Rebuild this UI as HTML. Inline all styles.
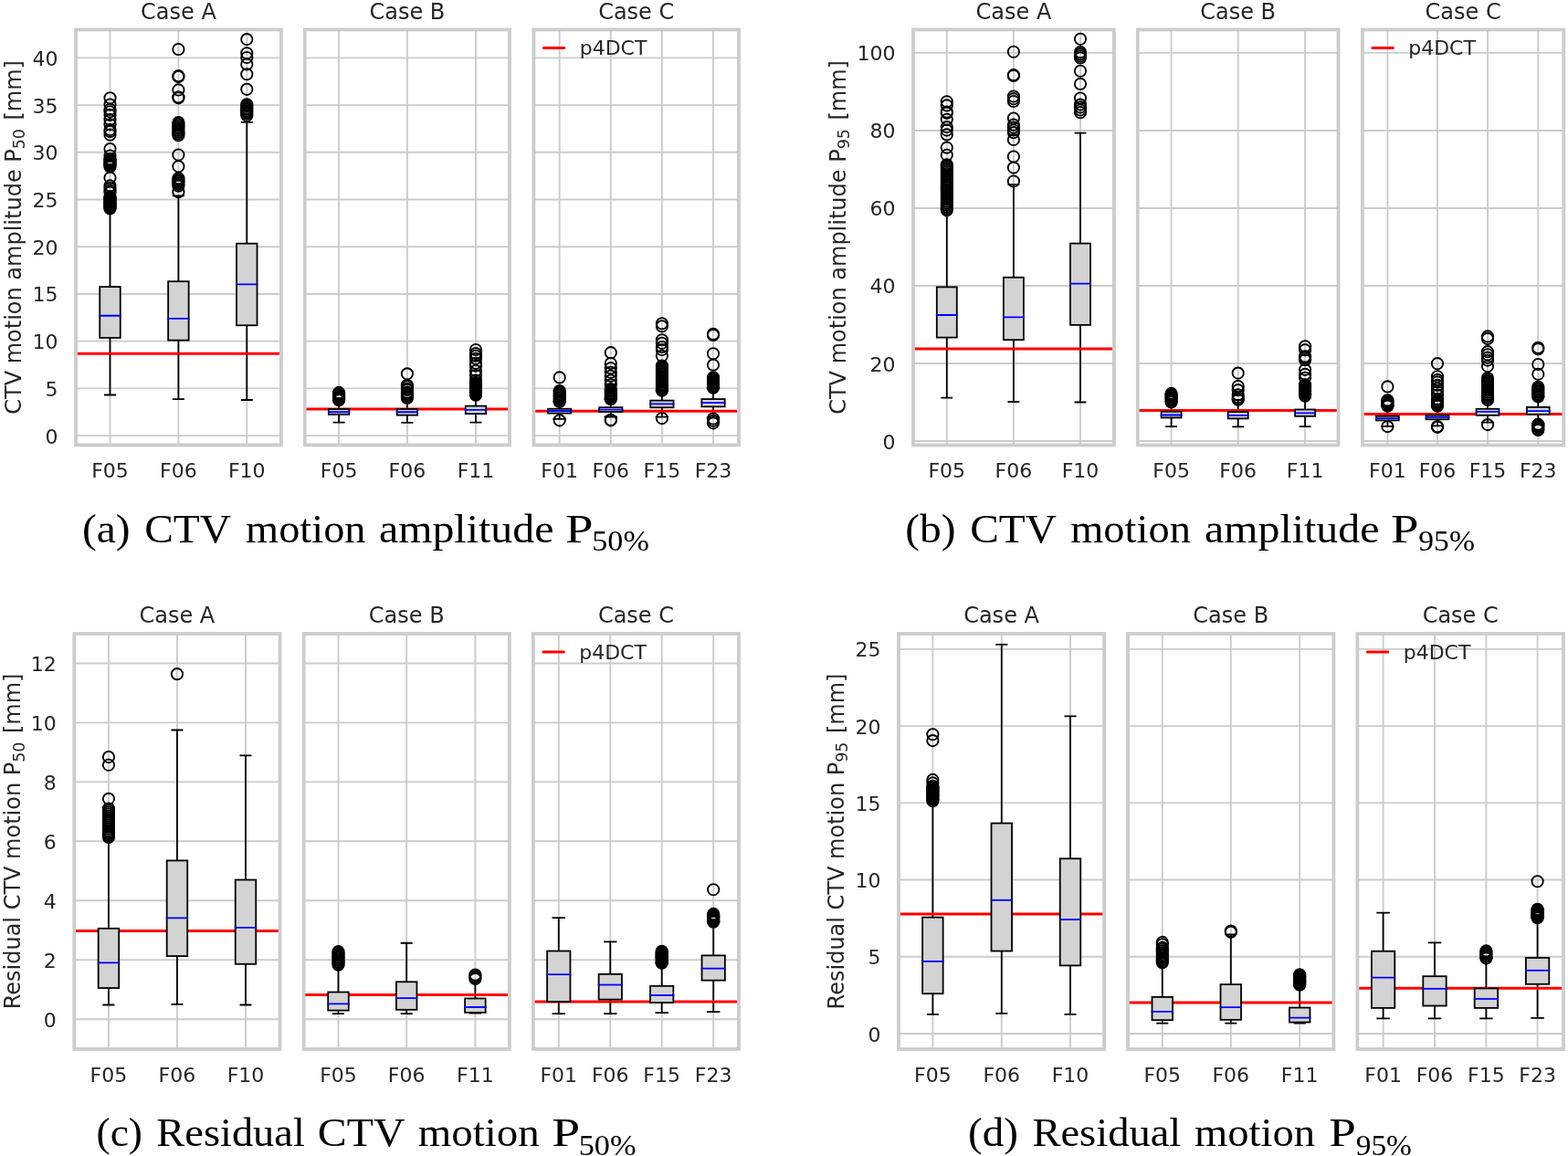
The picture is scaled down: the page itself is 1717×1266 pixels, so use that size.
<!DOCTYPE html>
<html><head><meta charset="utf-8"><title>CTV motion boxplots</title>
<style>
html,body{margin:0;padding:0;background:#fff;}
body{width:1717px;height:1266px;overflow:hidden;}
svg{display:block;}
text{font-family:"DejaVu Sans","Liberation Sans",sans-serif;fill:#262626;}
.tt{font-size:24px;text-anchor:middle;}
.xt{font-size:22px;text-anchor:middle;}
.yt{font-size:22px;text-anchor:end;}
.lg{font-size:22px;}
.yl{font-size:24px;text-anchor:middle;}
.cap{font-family:"Liberation Serif","DejaVu Serif",serif;fill:#000;}
</style></head>
<body>
<svg width="1717" height="1266" viewBox="0 0 1717 1266">
<rect width="1717" height="1266" fill="#fff"/>
<clipPath id="c00"><rect x="83.05" y="32.45" width="224.85" height="454.9"/></clipPath>
<path d="M83.05 477.1H307.9M83.05 425.38H307.9M83.05 373.67H307.9M83.05 321.96H307.9M83.05 270.24H307.9M83.05 218.53H307.9M83.05 166.81H307.9M83.05 115.1H307.9M83.05 63.38H307.9M120.5 32.45V487.35M195.4 32.45V487.35M270.3 32.45V487.35" stroke="#cccccc" stroke-width="1.9" fill="none"/>
<g clip-path="url(#c00)">
<path d="M120.5 369.95V432.52M120.5 314.09V228.87M114.88 432.52H126.12M114.88 228.87H126.12" stroke="#000" stroke-width="1.8" fill="none" stroke-linecap="square"/>
<circle cx="120.5" cy="107.34" r="6.15" fill="none" stroke="#000" stroke-width="1.85"/>
<circle cx="120.5" cy="114.58" r="6.15" fill="none" stroke="#000" stroke-width="1.85"/>
<circle cx="120.5" cy="119.75" r="6.15" fill="none" stroke="#000" stroke-width="1.85"/>
<circle cx="120.5" cy="122.34" r="6.15" fill="none" stroke="#000" stroke-width="1.85"/>
<circle cx="120.5" cy="125.96" r="6.15" fill="none" stroke="#000" stroke-width="1.85"/>
<circle cx="120.5" cy="131.13" r="6.15" fill="none" stroke="#000" stroke-width="1.85"/>
<circle cx="120.5" cy="136.3" r="6.15" fill="none" stroke="#000" stroke-width="1.85"/>
<circle cx="120.5" cy="141.99" r="6.15" fill="none" stroke="#000" stroke-width="1.85"/>
<circle cx="120.5" cy="144.06" r="6.15" fill="none" stroke="#000" stroke-width="1.85"/>
<circle cx="120.5" cy="147.68" r="6.15" fill="none" stroke="#000" stroke-width="1.85"/>
<circle cx="120.5" cy="163.09" r="6.15" fill="none" stroke="#000" stroke-width="1.85"/>
<circle cx="120.5" cy="170.53" r="6.15" fill="none" stroke="#000" stroke-width="1.85"/>
<circle cx="120.5" cy="174.05" r="6.15" fill="none" stroke="#000" stroke-width="1.85"/>
<circle cx="120.5" cy="175.31" r="6.15" fill="none" stroke="#000" stroke-width="1.85"/>
<circle cx="120.5" cy="176.56" r="6.15" fill="none" stroke="#000" stroke-width="1.85"/>
<circle cx="120.5" cy="177.82" r="6.15" fill="none" stroke="#000" stroke-width="1.85"/>
<circle cx="120.5" cy="179.07" r="6.15" fill="none" stroke="#000" stroke-width="1.85"/>
<circle cx="120.5" cy="180.33" r="6.15" fill="none" stroke="#000" stroke-width="1.85"/>
<circle cx="120.5" cy="181.59" r="6.15" fill="none" stroke="#000" stroke-width="1.85"/>
<circle cx="120.5" cy="182.84" r="6.15" fill="none" stroke="#000" stroke-width="1.85"/>
<circle cx="120.5" cy="194.74" r="6.15" fill="none" stroke="#000" stroke-width="1.85"/>
<circle cx="120.5" cy="203.42" r="6.15" fill="none" stroke="#000" stroke-width="1.85"/>
<circle cx="120.5" cy="206.11" r="6.15" fill="none" stroke="#000" stroke-width="1.85"/>
<circle cx="120.5" cy="208.7" r="6.15" fill="none" stroke="#000" stroke-width="1.85"/>
<circle cx="120.5" cy="210.77" r="6.15" fill="none" stroke="#000" stroke-width="1.85"/>
<circle cx="120.5" cy="215.42" r="6.15" fill="none" stroke="#000" stroke-width="1.85"/>
<circle cx="120.5" cy="216.42" r="6.15" fill="none" stroke="#000" stroke-width="1.85"/>
<circle cx="120.5" cy="217.43" r="6.15" fill="none" stroke="#000" stroke-width="1.85"/>
<circle cx="120.5" cy="218.43" r="6.15" fill="none" stroke="#000" stroke-width="1.85"/>
<circle cx="120.5" cy="219.43" r="6.15" fill="none" stroke="#000" stroke-width="1.85"/>
<circle cx="120.5" cy="220.43" r="6.15" fill="none" stroke="#000" stroke-width="1.85"/>
<circle cx="120.5" cy="221.44" r="6.15" fill="none" stroke="#000" stroke-width="1.85"/>
<circle cx="120.5" cy="222.44" r="6.15" fill="none" stroke="#000" stroke-width="1.85"/>
<circle cx="120.5" cy="223.44" r="6.15" fill="none" stroke="#000" stroke-width="1.85"/>
<circle cx="120.5" cy="224.44" r="6.15" fill="none" stroke="#000" stroke-width="1.85"/>
<circle cx="120.5" cy="225.45" r="6.15" fill="none" stroke="#000" stroke-width="1.85"/>
<circle cx="120.5" cy="226.45" r="6.15" fill="none" stroke="#000" stroke-width="1.85"/>
<circle cx="120.5" cy="227.45" r="6.15" fill="none" stroke="#000" stroke-width="1.85"/>
<circle cx="120.5" cy="228.45" r="6.15" fill="none" stroke="#000" stroke-width="1.85"/>
<path d="M195.4 372.64V437.07M195.4 308.2V214.39M189.78 437.07H201.02M189.78 214.39H201.02" stroke="#000" stroke-width="1.8" fill="none" stroke-linecap="square"/>
<circle cx="195.4" cy="53.97" r="6.15" fill="none" stroke="#000" stroke-width="1.85"/>
<circle cx="195.4" cy="83.14" r="6.15" fill="none" stroke="#000" stroke-width="1.85"/>
<circle cx="195.4" cy="84.07" r="6.15" fill="none" stroke="#000" stroke-width="1.85"/>
<circle cx="195.4" cy="98.44" r="6.15" fill="none" stroke="#000" stroke-width="1.85"/>
<circle cx="195.4" cy="106.3" r="6.15" fill="none" stroke="#000" stroke-width="1.85"/>
<circle cx="195.4" cy="107.34" r="6.15" fill="none" stroke="#000" stroke-width="1.85"/>
<circle cx="195.4" cy="134.02" r="6.15" fill="none" stroke="#000" stroke-width="1.85"/>
<circle cx="195.4" cy="135.79" r="6.15" fill="none" stroke="#000" stroke-width="1.85"/>
<circle cx="195.4" cy="137.57" r="6.15" fill="none" stroke="#000" stroke-width="1.85"/>
<circle cx="195.4" cy="139.34" r="6.15" fill="none" stroke="#000" stroke-width="1.85"/>
<circle cx="195.4" cy="141.11" r="6.15" fill="none" stroke="#000" stroke-width="1.85"/>
<circle cx="195.4" cy="142.88" r="6.15" fill="none" stroke="#000" stroke-width="1.85"/>
<circle cx="195.4" cy="144.65" r="6.15" fill="none" stroke="#000" stroke-width="1.85"/>
<circle cx="195.4" cy="146.42" r="6.15" fill="none" stroke="#000" stroke-width="1.85"/>
<circle cx="195.4" cy="148.19" r="6.15" fill="none" stroke="#000" stroke-width="1.85"/>
<circle cx="195.4" cy="169.5" r="6.15" fill="none" stroke="#000" stroke-width="1.85"/>
<circle cx="195.4" cy="182.32" r="6.15" fill="none" stroke="#000" stroke-width="1.85"/>
<circle cx="195.4" cy="195.15" r="6.15" fill="none" stroke="#000" stroke-width="1.85"/>
<circle cx="195.4" cy="196.87" r="6.15" fill="none" stroke="#000" stroke-width="1.85"/>
<circle cx="195.4" cy="198.58" r="6.15" fill="none" stroke="#000" stroke-width="1.85"/>
<circle cx="195.4" cy="200.3" r="6.15" fill="none" stroke="#000" stroke-width="1.85"/>
<circle cx="195.4" cy="202.02" r="6.15" fill="none" stroke="#000" stroke-width="1.85"/>
<circle cx="195.4" cy="203.73" r="6.15" fill="none" stroke="#000" stroke-width="1.85"/>
<circle cx="195.4" cy="210.15" r="6.15" fill="none" stroke="#000" stroke-width="1.85"/>
<path d="M270.3 356.29V438M270.3 266.72V133.92M264.68 438H275.92M264.68 133.92H275.92" stroke="#000" stroke-width="1.8" fill="none" stroke-linecap="square"/>
<circle cx="270.3" cy="43.11" r="6.15" fill="none" stroke="#000" stroke-width="1.85"/>
<circle cx="270.3" cy="58.31" r="6.15" fill="none" stroke="#000" stroke-width="1.85"/>
<circle cx="270.3" cy="62.97" r="6.15" fill="none" stroke="#000" stroke-width="1.85"/>
<circle cx="270.3" cy="70.41" r="6.15" fill="none" stroke="#000" stroke-width="1.85"/>
<circle cx="270.3" cy="81.27" r="6.15" fill="none" stroke="#000" stroke-width="1.85"/>
<circle cx="270.3" cy="97.82" r="6.15" fill="none" stroke="#000" stroke-width="1.85"/>
<circle cx="270.3" cy="114.37" r="6.15" fill="none" stroke="#000" stroke-width="1.85"/>
<circle cx="270.3" cy="116.13" r="6.15" fill="none" stroke="#000" stroke-width="1.85"/>
<circle cx="270.3" cy="118.2" r="6.15" fill="none" stroke="#000" stroke-width="1.85"/>
<circle cx="270.3" cy="119.75" r="6.15" fill="none" stroke="#000" stroke-width="1.85"/>
<circle cx="270.3" cy="121.3" r="6.15" fill="none" stroke="#000" stroke-width="1.85"/>
<circle cx="270.3" cy="122.85" r="6.15" fill="none" stroke="#000" stroke-width="1.85"/>
<circle cx="270.3" cy="124.4" r="6.15" fill="none" stroke="#000" stroke-width="1.85"/>
<circle cx="270.3" cy="126.47" r="6.15" fill="none" stroke="#000" stroke-width="1.85"/>
<path d="M83.05 387.22H307.9" stroke="#ff0000" stroke-width="3.0"/>
<rect x="109.26" y="314.09" width="22.48" height="55.85" fill="#d3d3d3" stroke="#000" stroke-width="1.8"/>
<path d="M109.26 345.74H131.74" stroke="#0000ff" stroke-width="1.8" stroke-linecap="square"/>
<rect x="184.16" y="308.2" width="22.48" height="64.44" fill="#d3d3d3" stroke="#000" stroke-width="1.8"/>
<path d="M184.16 348.95H206.64" stroke="#0000ff" stroke-width="1.8" stroke-linecap="square"/>
<rect x="259.06" y="266.72" width="22.48" height="89.57" fill="#d3d3d3" stroke="#000" stroke-width="1.8"/>
<path d="M259.06 311.41H281.54" stroke="#0000ff" stroke-width="1.8" stroke-linecap="square"/>
</g>
<rect x="83.05" y="32.45" width="224.85" height="454.9" fill="none" stroke="#cccccc" stroke-width="3.75"/>
<text x="195.47" y="20.55" class="tt">Case A</text>
<text x="120.5" y="522.95" class="xt">F05</text>
<text x="195.4" y="522.95" class="xt">F06</text>
<text x="270.3" y="522.95" class="xt">F10</text>
<clipPath id="c01"><rect x="333.8" y="32.45" width="224.2" height="454.9"/></clipPath>
<path d="M333.8 477.1H558M333.8 425.38H558M333.8 373.67H558M333.8 321.96H558M333.8 270.24H558M333.8 218.53H558M333.8 166.81H558M333.8 115.1H558M333.8 63.38H558M371.1 32.45V487.35M445.9 32.45V487.35M521 32.45V487.35" stroke="#cccccc" stroke-width="1.9" fill="none"/>
<g clip-path="url(#c01)">
<path d="M371.1 453.93V462.62M371.1 448.04V438.21M365.5 462.62H376.71M365.5 438.21H376.71" stroke="#000" stroke-width="1.8" fill="none" stroke-linecap="square"/>
<circle cx="371.1" cy="429.94" r="6.15" fill="none" stroke="#000" stroke-width="1.85"/>
<circle cx="371.1" cy="430.86" r="6.15" fill="none" stroke="#000" stroke-width="1.85"/>
<circle cx="371.1" cy="431.77" r="6.15" fill="none" stroke="#000" stroke-width="1.85"/>
<circle cx="371.1" cy="432.69" r="6.15" fill="none" stroke="#000" stroke-width="1.85"/>
<circle cx="371.1" cy="433.61" r="6.15" fill="none" stroke="#000" stroke-width="1.85"/>
<circle cx="371.1" cy="434.53" r="6.15" fill="none" stroke="#000" stroke-width="1.85"/>
<circle cx="371.1" cy="435.45" r="6.15" fill="none" stroke="#000" stroke-width="1.85"/>
<circle cx="371.1" cy="436.37" r="6.15" fill="none" stroke="#000" stroke-width="1.85"/>
<circle cx="371.1" cy="437.29" r="6.15" fill="none" stroke="#000" stroke-width="1.85"/>
<circle cx="371.1" cy="438.21" r="6.15" fill="none" stroke="#000" stroke-width="1.85"/>
<path d="M445.9 454.66V462.93M445.9 448.04V436.04M440.29 462.93H451.5M440.29 436.04H451.5" stroke="#000" stroke-width="1.8" fill="none" stroke-linecap="square"/>
<circle cx="445.9" cy="409.35" r="6.15" fill="none" stroke="#000" stroke-width="1.85"/>
<circle cx="445.9" cy="421.76" r="6.15" fill="none" stroke="#000" stroke-width="1.85"/>
<circle cx="445.9" cy="423.32" r="6.15" fill="none" stroke="#000" stroke-width="1.85"/>
<circle cx="445.9" cy="425.9" r="6.15" fill="none" stroke="#000" stroke-width="1.85"/>
<circle cx="445.9" cy="427.04" r="6.15" fill="none" stroke="#000" stroke-width="1.85"/>
<circle cx="445.9" cy="429.52" r="6.15" fill="none" stroke="#000" stroke-width="1.85"/>
<circle cx="445.9" cy="431.07" r="6.15" fill="none" stroke="#000" stroke-width="1.85"/>
<circle cx="445.9" cy="432.21" r="6.15" fill="none" stroke="#000" stroke-width="1.85"/>
<circle cx="445.9" cy="434.18" r="6.15" fill="none" stroke="#000" stroke-width="1.85"/>
<circle cx="445.9" cy="436.04" r="6.15" fill="none" stroke="#000" stroke-width="1.85"/>
<path d="M521 453.21V462.72M521 444.62V432.83M515.39 462.72H526.61M515.39 432.83H526.61" stroke="#000" stroke-width="1.8" fill="none" stroke-linecap="square"/>
<circle cx="521" cy="382.98" r="6.15" fill="none" stroke="#000" stroke-width="1.85"/>
<circle cx="521" cy="387.12" r="6.15" fill="none" stroke="#000" stroke-width="1.85"/>
<circle cx="521" cy="389.7" r="6.15" fill="none" stroke="#000" stroke-width="1.85"/>
<circle cx="521" cy="392.8" r="6.15" fill="none" stroke="#000" stroke-width="1.85"/>
<circle cx="521" cy="397.77" r="6.15" fill="none" stroke="#000" stroke-width="1.85"/>
<circle cx="521" cy="400.56" r="6.15" fill="none" stroke="#000" stroke-width="1.85"/>
<circle cx="521" cy="406.04" r="6.15" fill="none" stroke="#000" stroke-width="1.85"/>
<circle cx="521" cy="411.01" r="6.15" fill="none" stroke="#000" stroke-width="1.85"/>
<circle cx="521" cy="416.59" r="6.15" fill="none" stroke="#000" stroke-width="1.85"/>
<circle cx="521" cy="419.18" r="6.15" fill="none" stroke="#000" stroke-width="1.85"/>
<circle cx="521" cy="420.23" r="6.15" fill="none" stroke="#000" stroke-width="1.85"/>
<circle cx="521" cy="421.28" r="6.15" fill="none" stroke="#000" stroke-width="1.85"/>
<circle cx="521" cy="422.33" r="6.15" fill="none" stroke="#000" stroke-width="1.85"/>
<circle cx="521" cy="423.38" r="6.15" fill="none" stroke="#000" stroke-width="1.85"/>
<circle cx="521" cy="424.43" r="6.15" fill="none" stroke="#000" stroke-width="1.85"/>
<circle cx="521" cy="425.48" r="6.15" fill="none" stroke="#000" stroke-width="1.85"/>
<circle cx="521" cy="426.53" r="6.15" fill="none" stroke="#000" stroke-width="1.85"/>
<circle cx="521" cy="427.58" r="6.15" fill="none" stroke="#000" stroke-width="1.85"/>
<circle cx="521" cy="428.63" r="6.15" fill="none" stroke="#000" stroke-width="1.85"/>
<circle cx="521" cy="429.68" r="6.15" fill="none" stroke="#000" stroke-width="1.85"/>
<circle cx="521" cy="430.73" r="6.15" fill="none" stroke="#000" stroke-width="1.85"/>
<circle cx="521" cy="431.78" r="6.15" fill="none" stroke="#000" stroke-width="1.85"/>
<circle cx="521" cy="432.83" r="6.15" fill="none" stroke="#000" stroke-width="1.85"/>
<path d="M333.8 447.93H558" stroke="#ff0000" stroke-width="3.0"/>
<rect x="359.89" y="448.04" width="22.42" height="5.9" fill="#d3d3d3" stroke="#000" stroke-width="1.8"/>
<path d="M359.89 451.24H382.31" stroke="#0000ff" stroke-width="1.8" stroke-linecap="square"/>
<rect x="434.69" y="448.04" width="22.42" height="6.62" fill="#d3d3d3" stroke="#000" stroke-width="1.8"/>
<path d="M434.69 451.24H457.11" stroke="#0000ff" stroke-width="1.8" stroke-linecap="square"/>
<rect x="509.79" y="444.62" width="22.42" height="8.58" fill="#d3d3d3" stroke="#000" stroke-width="1.8"/>
<path d="M509.79 448.97H532.21" stroke="#0000ff" stroke-width="1.8" stroke-linecap="square"/>
</g>
<rect x="333.8" y="32.45" width="224.2" height="454.9" fill="none" stroke="#cccccc" stroke-width="3.75"/>
<text x="445.9" y="20.55" class="tt">Case B</text>
<text x="371.1" y="522.95" class="xt">F05</text>
<text x="445.9" y="522.95" class="xt">F06</text>
<text x="521" y="522.95" class="xt">F11</text>
<clipPath id="c02"><rect x="584.4" y="32.45" width="224.6" height="454.9"/></clipPath>
<path d="M584.4 477.1H809M584.4 425.38H809M584.4 373.67H809M584.4 321.96H809M584.4 270.24H809M584.4 218.53H809M584.4 166.81H809M584.4 115.1H809M584.4 63.38H809M612.7 32.45V487.35M668.8 32.45V487.35M724.9 32.45V487.35M781 32.45V487.35" stroke="#cccccc" stroke-width="1.9" fill="none"/>
<g clip-path="url(#c02)">
<path d="M612.7 452.59V458.9M612.7 447.73V439.97M606.38 458.9H619.02M606.38 439.97H619.02" stroke="#000" stroke-width="1.8" fill="none" stroke-linecap="square"/>
<circle cx="612.7" cy="413.39" r="6.15" fill="none" stroke="#000" stroke-width="1.85"/>
<circle cx="612.7" cy="427.97" r="6.15" fill="none" stroke="#000" stroke-width="1.85"/>
<circle cx="612.7" cy="429.32" r="6.15" fill="none" stroke="#000" stroke-width="1.85"/>
<circle cx="612.7" cy="431.07" r="6.15" fill="none" stroke="#000" stroke-width="1.85"/>
<circle cx="612.7" cy="432.56" r="6.15" fill="none" stroke="#000" stroke-width="1.85"/>
<circle cx="612.7" cy="434.04" r="6.15" fill="none" stroke="#000" stroke-width="1.85"/>
<circle cx="612.7" cy="435.52" r="6.15" fill="none" stroke="#000" stroke-width="1.85"/>
<circle cx="612.7" cy="437" r="6.15" fill="none" stroke="#000" stroke-width="1.85"/>
<circle cx="612.7" cy="438.49" r="6.15" fill="none" stroke="#000" stroke-width="1.85"/>
<circle cx="612.7" cy="439.97" r="6.15" fill="none" stroke="#000" stroke-width="1.85"/>
<circle cx="612.7" cy="460.34" r="6.15" fill="none" stroke="#000" stroke-width="1.85"/>
<path d="M668.8 451.04V456.52M668.8 446.17V437.18M662.48 456.52H675.12M662.48 437.18H675.12" stroke="#000" stroke-width="1.8" fill="none" stroke-linecap="square"/>
<circle cx="668.8" cy="386.19" r="6.15" fill="none" stroke="#000" stroke-width="1.85"/>
<circle cx="668.8" cy="397.98" r="6.15" fill="none" stroke="#000" stroke-width="1.85"/>
<circle cx="668.8" cy="403.15" r="6.15" fill="none" stroke="#000" stroke-width="1.85"/>
<circle cx="668.8" cy="407.8" r="6.15" fill="none" stroke="#000" stroke-width="1.85"/>
<circle cx="668.8" cy="411.84" r="6.15" fill="none" stroke="#000" stroke-width="1.85"/>
<circle cx="668.8" cy="416.49" r="6.15" fill="none" stroke="#000" stroke-width="1.85"/>
<circle cx="668.8" cy="421.25" r="6.15" fill="none" stroke="#000" stroke-width="1.85"/>
<circle cx="668.8" cy="426.01" r="6.15" fill="none" stroke="#000" stroke-width="1.85"/>
<circle cx="668.8" cy="427.45" r="6.15" fill="none" stroke="#000" stroke-width="1.85"/>
<circle cx="668.8" cy="428.84" r="6.15" fill="none" stroke="#000" stroke-width="1.85"/>
<circle cx="668.8" cy="430.23" r="6.15" fill="none" stroke="#000" stroke-width="1.85"/>
<circle cx="668.8" cy="431.62" r="6.15" fill="none" stroke="#000" stroke-width="1.85"/>
<circle cx="668.8" cy="433.01" r="6.15" fill="none" stroke="#000" stroke-width="1.85"/>
<circle cx="668.8" cy="434.4" r="6.15" fill="none" stroke="#000" stroke-width="1.85"/>
<circle cx="668.8" cy="435.79" r="6.15" fill="none" stroke="#000" stroke-width="1.85"/>
<circle cx="668.8" cy="437.18" r="6.15" fill="none" stroke="#000" stroke-width="1.85"/>
<circle cx="668.8" cy="459.83" r="6.15" fill="none" stroke="#000" stroke-width="1.85"/>
<circle cx="668.8" cy="460.34" r="6.15" fill="none" stroke="#000" stroke-width="1.85"/>
<path d="M724.9 446.28V456.62M724.9 438.62V427.87M718.58 456.62H731.22M718.58 427.87H731.22" stroke="#000" stroke-width="1.8" fill="none" stroke-linecap="square"/>
<circle cx="724.9" cy="354.33" r="6.15" fill="none" stroke="#000" stroke-width="1.85"/>
<circle cx="724.9" cy="357.33" r="6.15" fill="none" stroke="#000" stroke-width="1.85"/>
<circle cx="724.9" cy="372.22" r="6.15" fill="none" stroke="#000" stroke-width="1.85"/>
<circle cx="724.9" cy="375.84" r="6.15" fill="none" stroke="#000" stroke-width="1.85"/>
<circle cx="724.9" cy="379.98" r="6.15" fill="none" stroke="#000" stroke-width="1.85"/>
<circle cx="724.9" cy="382.98" r="6.15" fill="none" stroke="#000" stroke-width="1.85"/>
<circle cx="724.9" cy="389.7" r="6.15" fill="none" stroke="#000" stroke-width="1.85"/>
<circle cx="724.9" cy="400.46" r="6.15" fill="none" stroke="#000" stroke-width="1.85"/>
<circle cx="724.9" cy="401.98" r="6.15" fill="none" stroke="#000" stroke-width="1.85"/>
<circle cx="724.9" cy="403.5" r="6.15" fill="none" stroke="#000" stroke-width="1.85"/>
<circle cx="724.9" cy="405.03" r="6.15" fill="none" stroke="#000" stroke-width="1.85"/>
<circle cx="724.9" cy="406.55" r="6.15" fill="none" stroke="#000" stroke-width="1.85"/>
<circle cx="724.9" cy="408.07" r="6.15" fill="none" stroke="#000" stroke-width="1.85"/>
<circle cx="724.9" cy="409.59" r="6.15" fill="none" stroke="#000" stroke-width="1.85"/>
<circle cx="724.9" cy="411.12" r="6.15" fill="none" stroke="#000" stroke-width="1.85"/>
<circle cx="724.9" cy="412.64" r="6.15" fill="none" stroke="#000" stroke-width="1.85"/>
<circle cx="724.9" cy="414.16" r="6.15" fill="none" stroke="#000" stroke-width="1.85"/>
<circle cx="724.9" cy="415.69" r="6.15" fill="none" stroke="#000" stroke-width="1.85"/>
<circle cx="724.9" cy="417.21" r="6.15" fill="none" stroke="#000" stroke-width="1.85"/>
<circle cx="724.9" cy="418.73" r="6.15" fill="none" stroke="#000" stroke-width="1.85"/>
<circle cx="724.9" cy="420.25" r="6.15" fill="none" stroke="#000" stroke-width="1.85"/>
<circle cx="724.9" cy="421.78" r="6.15" fill="none" stroke="#000" stroke-width="1.85"/>
<circle cx="724.9" cy="423.3" r="6.15" fill="none" stroke="#000" stroke-width="1.85"/>
<circle cx="724.9" cy="424.82" r="6.15" fill="none" stroke="#000" stroke-width="1.85"/>
<circle cx="724.9" cy="426.34" r="6.15" fill="none" stroke="#000" stroke-width="1.85"/>
<circle cx="724.9" cy="427.87" r="6.15" fill="none" stroke="#000" stroke-width="1.85"/>
<circle cx="724.9" cy="458.07" r="6.15" fill="none" stroke="#000" stroke-width="1.85"/>
<path d="M781 445.35V457.45M781 437.07V424.76M774.68 457.45H787.32M774.68 424.76H787.32" stroke="#000" stroke-width="1.8" fill="none" stroke-linecap="square"/>
<circle cx="781" cy="365.71" r="6.15" fill="none" stroke="#000" stroke-width="1.85"/>
<circle cx="781" cy="366.95" r="6.15" fill="none" stroke="#000" stroke-width="1.85"/>
<circle cx="781" cy="387.22" r="6.15" fill="none" stroke="#000" stroke-width="1.85"/>
<circle cx="781" cy="399.63" r="6.15" fill="none" stroke="#000" stroke-width="1.85"/>
<circle cx="781" cy="413.28" r="6.15" fill="none" stroke="#000" stroke-width="1.85"/>
<circle cx="781" cy="414.56" r="6.15" fill="none" stroke="#000" stroke-width="1.85"/>
<circle cx="781" cy="415.83" r="6.15" fill="none" stroke="#000" stroke-width="1.85"/>
<circle cx="781" cy="417.11" r="6.15" fill="none" stroke="#000" stroke-width="1.85"/>
<circle cx="781" cy="418.39" r="6.15" fill="none" stroke="#000" stroke-width="1.85"/>
<circle cx="781" cy="419.66" r="6.15" fill="none" stroke="#000" stroke-width="1.85"/>
<circle cx="781" cy="420.94" r="6.15" fill="none" stroke="#000" stroke-width="1.85"/>
<circle cx="781" cy="422.21" r="6.15" fill="none" stroke="#000" stroke-width="1.85"/>
<circle cx="781" cy="423.49" r="6.15" fill="none" stroke="#000" stroke-width="1.85"/>
<circle cx="781" cy="424.76" r="6.15" fill="none" stroke="#000" stroke-width="1.85"/>
<circle cx="781" cy="458.48" r="6.15" fill="none" stroke="#000" stroke-width="1.85"/>
<circle cx="781" cy="460.76" r="6.15" fill="none" stroke="#000" stroke-width="1.85"/>
<circle cx="781" cy="463.34" r="6.15" fill="none" stroke="#000" stroke-width="1.85"/>
<path d="M584.4 450.21H809" stroke="#ff0000" stroke-width="3.0"/>
<rect x="600.07" y="447.73" width="25.27" height="4.86" fill="#d3d3d3" stroke="#000" stroke-width="1.8"/>
<path d="M600.07 450H625.33" stroke="#0000ff" stroke-width="1.8" stroke-linecap="square"/>
<rect x="656.17" y="446.17" width="25.27" height="4.86" fill="#d3d3d3" stroke="#000" stroke-width="1.8"/>
<path d="M656.17 448.55H681.43" stroke="#0000ff" stroke-width="1.8" stroke-linecap="square"/>
<rect x="712.27" y="438.62" width="25.27" height="7.65" fill="#d3d3d3" stroke="#000" stroke-width="1.8"/>
<path d="M712.27 442.45H737.53" stroke="#0000ff" stroke-width="1.8" stroke-linecap="square"/>
<rect x="768.37" y="437.07" width="25.27" height="8.27" fill="#d3d3d3" stroke="#000" stroke-width="1.8"/>
<path d="M768.37 441.21H793.63" stroke="#0000ff" stroke-width="1.8" stroke-linecap="square"/>
</g>
<rect x="584.4" y="32.45" width="224.6" height="454.9" fill="none" stroke="#cccccc" stroke-width="3.75"/>
<text x="696.7" y="20.55" class="tt">Case C</text>
<text x="612.7" y="522.95" class="xt">F01</text>
<text x="668.8" y="522.95" class="xt">F06</text>
<text x="724.9" y="522.95" class="xt">F15</text>
<text x="781" y="522.95" class="xt">F23</text>
<path d="M595.4 52.55H617.9" stroke="#ff0000" stroke-width="3.0" stroke-linecap="round"/>
<text x="634.7" y="60.15" class="lg">p4DCT</text>
<text x="63.45" y="485.6" class="yt">0</text>
<text x="63.45" y="433.88" class="yt">5</text>
<text x="63.45" y="382.17" class="yt">10</text>
<text x="63.45" y="330.46" class="yt">15</text>
<text x="63.45" y="278.74" class="yt">20</text>
<text x="63.45" y="227.03" class="yt">25</text>
<text x="63.45" y="175.31" class="yt">30</text>
<text x="63.45" y="123.6" class="yt">35</text>
<text x="63.45" y="71.88" class="yt">40</text>
<text transform="translate(22.8 259.9) rotate(-90)" class="yl">CTV motion amplitude P<tspan font-size="17.5" dy="4.4">50</tspan><tspan dy="-4.4" dx="1.8"> [mm]</tspan></text>
<clipPath id="c10"><rect x="1000" y="32.45" width="219.9" height="455.05"/></clipPath>
<path d="M1000 483.05H1219.9M1000 398.02H1219.9M1000 312.99H1219.9M1000 227.96H1219.9M1000 142.93H1219.9M1000 57.9H1219.9M1036.8 32.45V487.5M1109.9 32.45V487.5M1183 32.45V487.5" stroke="#cccccc" stroke-width="1.9" fill="none"/>
<g clip-path="url(#c10)">
<path d="M1036.8 369.62V435.69M1036.8 314.39V230.3M1031.3 435.69H1042.3M1031.3 230.3H1042.3" stroke="#000" stroke-width="1.8" fill="none" stroke-linecap="square"/>
<circle cx="1036.8" cy="111.26" r="6.15" fill="none" stroke="#000" stroke-width="1.85"/>
<circle cx="1036.8" cy="115.42" r="6.15" fill="none" stroke="#000" stroke-width="1.85"/>
<circle cx="1036.8" cy="122.52" r="6.15" fill="none" stroke="#000" stroke-width="1.85"/>
<circle cx="1036.8" cy="123.8" r="6.15" fill="none" stroke="#000" stroke-width="1.85"/>
<circle cx="1036.8" cy="130.81" r="6.15" fill="none" stroke="#000" stroke-width="1.85"/>
<circle cx="1036.8" cy="139.1" r="6.15" fill="none" stroke="#000" stroke-width="1.85"/>
<circle cx="1036.8" cy="142.59" r="6.15" fill="none" stroke="#000" stroke-width="1.85"/>
<circle cx="1036.8" cy="147.39" r="6.15" fill="none" stroke="#000" stroke-width="1.85"/>
<circle cx="1036.8" cy="161.64" r="6.15" fill="none" stroke="#000" stroke-width="1.85"/>
<circle cx="1036.8" cy="169.71" r="6.15" fill="none" stroke="#000" stroke-width="1.85"/>
<circle cx="1036.8" cy="180.34" r="6.15" fill="none" stroke="#000" stroke-width="1.85"/>
<circle cx="1036.8" cy="182.26" r="6.15" fill="none" stroke="#000" stroke-width="1.85"/>
<circle cx="1036.8" cy="184.19" r="6.15" fill="none" stroke="#000" stroke-width="1.85"/>
<circle cx="1036.8" cy="186.11" r="6.15" fill="none" stroke="#000" stroke-width="1.85"/>
<circle cx="1036.8" cy="188.03" r="6.15" fill="none" stroke="#000" stroke-width="1.85"/>
<circle cx="1036.8" cy="189.95" r="6.15" fill="none" stroke="#000" stroke-width="1.85"/>
<circle cx="1036.8" cy="191.87" r="6.15" fill="none" stroke="#000" stroke-width="1.85"/>
<circle cx="1036.8" cy="193.79" r="6.15" fill="none" stroke="#000" stroke-width="1.85"/>
<circle cx="1036.8" cy="195.71" r="6.15" fill="none" stroke="#000" stroke-width="1.85"/>
<circle cx="1036.8" cy="197.64" r="6.15" fill="none" stroke="#000" stroke-width="1.85"/>
<circle cx="1036.8" cy="199.56" r="6.15" fill="none" stroke="#000" stroke-width="1.85"/>
<circle cx="1036.8" cy="201.48" r="6.15" fill="none" stroke="#000" stroke-width="1.85"/>
<circle cx="1036.8" cy="203.4" r="6.15" fill="none" stroke="#000" stroke-width="1.85"/>
<circle cx="1036.8" cy="205.32" r="6.15" fill="none" stroke="#000" stroke-width="1.85"/>
<circle cx="1036.8" cy="207.24" r="6.15" fill="none" stroke="#000" stroke-width="1.85"/>
<circle cx="1036.8" cy="209.16" r="6.15" fill="none" stroke="#000" stroke-width="1.85"/>
<circle cx="1036.8" cy="211.08" r="6.15" fill="none" stroke="#000" stroke-width="1.85"/>
<circle cx="1036.8" cy="213.01" r="6.15" fill="none" stroke="#000" stroke-width="1.85"/>
<circle cx="1036.8" cy="214.93" r="6.15" fill="none" stroke="#000" stroke-width="1.85"/>
<circle cx="1036.8" cy="216.85" r="6.15" fill="none" stroke="#000" stroke-width="1.85"/>
<circle cx="1036.8" cy="218.77" r="6.15" fill="none" stroke="#000" stroke-width="1.85"/>
<circle cx="1036.8" cy="220.69" r="6.15" fill="none" stroke="#000" stroke-width="1.85"/>
<circle cx="1036.8" cy="222.61" r="6.15" fill="none" stroke="#000" stroke-width="1.85"/>
<circle cx="1036.8" cy="224.53" r="6.15" fill="none" stroke="#000" stroke-width="1.85"/>
<circle cx="1036.8" cy="226.46" r="6.15" fill="none" stroke="#000" stroke-width="1.85"/>
<circle cx="1036.8" cy="228.38" r="6.15" fill="none" stroke="#000" stroke-width="1.85"/>
<circle cx="1036.8" cy="230.3" r="6.15" fill="none" stroke="#000" stroke-width="1.85"/>
<path d="M1109.9 372.21V439.98M1109.9 303.81V202.03M1104.4 439.98H1115.4M1104.4 202.03H1115.4" stroke="#000" stroke-width="1.8" fill="none" stroke-linecap="square"/>
<circle cx="1109.9" cy="56.79" r="6.15" fill="none" stroke="#000" stroke-width="1.85"/>
<circle cx="1109.9" cy="82.13" r="6.15" fill="none" stroke="#000" stroke-width="1.85"/>
<circle cx="1109.9" cy="82.98" r="6.15" fill="none" stroke="#000" stroke-width="1.85"/>
<circle cx="1109.9" cy="105.52" r="6.15" fill="none" stroke="#000" stroke-width="1.85"/>
<circle cx="1109.9" cy="108.2" r="6.15" fill="none" stroke="#000" stroke-width="1.85"/>
<circle cx="1109.9" cy="111.04" r="6.15" fill="none" stroke="#000" stroke-width="1.85"/>
<circle cx="1109.9" cy="129.58" r="6.15" fill="none" stroke="#000" stroke-width="1.85"/>
<circle cx="1109.9" cy="136.68" r="6.15" fill="none" stroke="#000" stroke-width="1.85"/>
<circle cx="1109.9" cy="139.53" r="6.15" fill="none" stroke="#000" stroke-width="1.85"/>
<circle cx="1109.9" cy="142.5" r="6.15" fill="none" stroke="#000" stroke-width="1.85"/>
<circle cx="1109.9" cy="145.18" r="6.15" fill="none" stroke="#000" stroke-width="1.85"/>
<circle cx="1109.9" cy="153.01" r="6.15" fill="none" stroke="#000" stroke-width="1.85"/>
<circle cx="1109.9" cy="171.5" r="6.15" fill="none" stroke="#000" stroke-width="1.85"/>
<circle cx="1109.9" cy="183.62" r="6.15" fill="none" stroke="#000" stroke-width="1.85"/>
<circle cx="1109.9" cy="198.5" r="6.15" fill="none" stroke="#000" stroke-width="1.85"/>
<path d="M1183 355.89V440.49M1183 266.61V145.61M1177.5 440.49H1188.5M1177.5 145.61H1188.5" stroke="#000" stroke-width="1.8" fill="none" stroke-linecap="square"/>
<circle cx="1183" cy="42.81" r="6.15" fill="none" stroke="#000" stroke-width="1.85"/>
<circle cx="1183" cy="57.05" r="6.15" fill="none" stroke="#000" stroke-width="1.85"/>
<circle cx="1183" cy="59.18" r="6.15" fill="none" stroke="#000" stroke-width="1.85"/>
<circle cx="1183" cy="61.3" r="6.15" fill="none" stroke="#000" stroke-width="1.85"/>
<circle cx="1183" cy="63.43" r="6.15" fill="none" stroke="#000" stroke-width="1.85"/>
<circle cx="1183" cy="77.71" r="6.15" fill="none" stroke="#000" stroke-width="1.85"/>
<circle cx="1183" cy="91.91" r="6.15" fill="none" stroke="#000" stroke-width="1.85"/>
<circle cx="1183" cy="107.52" r="6.15" fill="none" stroke="#000" stroke-width="1.85"/>
<circle cx="1183" cy="114.62" r="6.15" fill="none" stroke="#000" stroke-width="1.85"/>
<circle cx="1183" cy="117.42" r="6.15" fill="none" stroke="#000" stroke-width="1.85"/>
<circle cx="1183" cy="120.4" r="6.15" fill="none" stroke="#000" stroke-width="1.85"/>
<circle cx="1183" cy="123.2" r="6.15" fill="none" stroke="#000" stroke-width="1.85"/>
<path d="M1000 381.91H1219.9" stroke="#ff0000" stroke-width="3.0"/>
<rect x="1025.81" y="314.39" width="21.99" height="55.23" fill="#d3d3d3" stroke="#000" stroke-width="1.8"/>
<path d="M1025.81 345H1047.79" stroke="#0000ff" stroke-width="1.8" stroke-linecap="square"/>
<rect x="1098.91" y="303.81" width="21.99" height="68.41" fill="#d3d3d3" stroke="#000" stroke-width="1.8"/>
<path d="M1098.91 347.43H1120.89" stroke="#0000ff" stroke-width="1.8" stroke-linecap="square"/>
<rect x="1172.01" y="266.61" width="21.99" height="89.28" fill="#d3d3d3" stroke="#000" stroke-width="1.8"/>
<path d="M1172.01 310.61H1193.99" stroke="#0000ff" stroke-width="1.8" stroke-linecap="square"/>
</g>
<rect x="1000" y="32.45" width="219.9" height="455.05" fill="none" stroke="#cccccc" stroke-width="3.75"/>
<text x="1109.95" y="20.55" class="tt">Case A</text>
<text x="1036.8" y="523.1" class="xt">F05</text>
<text x="1109.9" y="523.1" class="xt">F06</text>
<text x="1183" y="523.1" class="xt">F10</text>
<clipPath id="c11"><rect x="1245.8" y="32.45" width="219.7" height="455.05"/></clipPath>
<path d="M1245.8 483.05H1465.5M1245.8 398.02H1465.5M1245.8 312.99H1465.5M1245.8 227.96H1465.5M1245.8 142.93H1465.5M1245.8 57.9H1465.5M1282.6 32.45V487.5M1355.7 32.45V487.5M1429.1 32.45V487.5" stroke="#cccccc" stroke-width="1.9" fill="none"/>
<g clip-path="url(#c11)">
<path d="M1282.6 457.41V467.11M1282.6 450.78V440.41M1277.11 467.11H1288.09M1277.11 440.41H1288.09" stroke="#000" stroke-width="1.8" fill="none" stroke-linecap="square"/>
<circle cx="1282.6" cy="430.88" r="6.15" fill="none" stroke="#000" stroke-width="1.85"/>
<circle cx="1282.6" cy="432.24" r="6.15" fill="none" stroke="#000" stroke-width="1.85"/>
<circle cx="1282.6" cy="433.61" r="6.15" fill="none" stroke="#000" stroke-width="1.85"/>
<circle cx="1282.6" cy="434.97" r="6.15" fill="none" stroke="#000" stroke-width="1.85"/>
<circle cx="1282.6" cy="436.33" r="6.15" fill="none" stroke="#000" stroke-width="1.85"/>
<circle cx="1282.6" cy="437.69" r="6.15" fill="none" stroke="#000" stroke-width="1.85"/>
<circle cx="1282.6" cy="439.05" r="6.15" fill="none" stroke="#000" stroke-width="1.85"/>
<circle cx="1282.6" cy="440.41" r="6.15" fill="none" stroke="#000" stroke-width="1.85"/>
<path d="M1355.7 458.39V467.32M1355.7 451.08V437.81M1350.21 467.32H1361.19M1350.21 437.81H1361.19" stroke="#000" stroke-width="1.8" fill="none" stroke-linecap="square"/>
<circle cx="1355.7" cy="408.61" r="6.15" fill="none" stroke="#000" stroke-width="1.85"/>
<circle cx="1355.7" cy="423.02" r="6.15" fill="none" stroke="#000" stroke-width="1.85"/>
<circle cx="1355.7" cy="427.19" r="6.15" fill="none" stroke="#000" stroke-width="1.85"/>
<circle cx="1355.7" cy="432.41" r="6.15" fill="none" stroke="#000" stroke-width="1.85"/>
<circle cx="1355.7" cy="435.01" r="6.15" fill="none" stroke="#000" stroke-width="1.85"/>
<circle cx="1355.7" cy="436.88" r="6.15" fill="none" stroke="#000" stroke-width="1.85"/>
<circle cx="1355.7" cy="437.81" r="6.15" fill="none" stroke="#000" stroke-width="1.85"/>
<path d="M1429.1 455.8V467.11M1429.1 448.49V433.82M1423.61 467.11H1434.59M1423.61 433.82H1434.59" stroke="#000" stroke-width="1.8" fill="none" stroke-linecap="square"/>
<circle cx="1429.1" cy="379.31" r="6.15" fill="none" stroke="#000" stroke-width="1.85"/>
<circle cx="1429.1" cy="383.14" r="6.15" fill="none" stroke="#000" stroke-width="1.85"/>
<circle cx="1429.1" cy="390.37" r="6.15" fill="none" stroke="#000" stroke-width="1.85"/>
<circle cx="1429.1" cy="391.64" r="6.15" fill="none" stroke="#000" stroke-width="1.85"/>
<circle cx="1429.1" cy="394.19" r="6.15" fill="none" stroke="#000" stroke-width="1.85"/>
<circle cx="1429.1" cy="404.82" r="6.15" fill="none" stroke="#000" stroke-width="1.85"/>
<circle cx="1429.1" cy="409.92" r="6.15" fill="none" stroke="#000" stroke-width="1.85"/>
<circle cx="1429.1" cy="413.75" r="6.15" fill="none" stroke="#000" stroke-width="1.85"/>
<circle cx="1429.1" cy="421.32" r="6.15" fill="none" stroke="#000" stroke-width="1.85"/>
<circle cx="1429.1" cy="422.45" r="6.15" fill="none" stroke="#000" stroke-width="1.85"/>
<circle cx="1429.1" cy="423.59" r="6.15" fill="none" stroke="#000" stroke-width="1.85"/>
<circle cx="1429.1" cy="424.73" r="6.15" fill="none" stroke="#000" stroke-width="1.85"/>
<circle cx="1429.1" cy="425.86" r="6.15" fill="none" stroke="#000" stroke-width="1.85"/>
<circle cx="1429.1" cy="427" r="6.15" fill="none" stroke="#000" stroke-width="1.85"/>
<circle cx="1429.1" cy="428.14" r="6.15" fill="none" stroke="#000" stroke-width="1.85"/>
<circle cx="1429.1" cy="429.27" r="6.15" fill="none" stroke="#000" stroke-width="1.85"/>
<circle cx="1429.1" cy="430.41" r="6.15" fill="none" stroke="#000" stroke-width="1.85"/>
<circle cx="1429.1" cy="431.55" r="6.15" fill="none" stroke="#000" stroke-width="1.85"/>
<circle cx="1429.1" cy="432.68" r="6.15" fill="none" stroke="#000" stroke-width="1.85"/>
<circle cx="1429.1" cy="433.82" r="6.15" fill="none" stroke="#000" stroke-width="1.85"/>
<path d="M1245.8 449.51H1465.5" stroke="#ff0000" stroke-width="3.0"/>
<rect x="1271.62" y="450.78" width="21.97" height="6.63" fill="#d3d3d3" stroke="#000" stroke-width="1.8"/>
<path d="M1271.62 454.48H1293.58" stroke="#0000ff" stroke-width="1.8" stroke-linecap="square"/>
<rect x="1344.72" y="451.08" width="21.97" height="7.31" fill="#d3d3d3" stroke="#000" stroke-width="1.8"/>
<path d="M1344.72 454.78H1366.68" stroke="#0000ff" stroke-width="1.8" stroke-linecap="square"/>
<rect x="1418.12" y="448.49" width="21.97" height="7.31" fill="#d3d3d3" stroke="#000" stroke-width="1.8"/>
<path d="M1418.12 452.4H1440.08" stroke="#0000ff" stroke-width="1.8" stroke-linecap="square"/>
</g>
<rect x="1245.8" y="32.45" width="219.7" height="455.05" fill="none" stroke="#cccccc" stroke-width="3.75"/>
<text x="1355.65" y="20.55" class="tt">Case B</text>
<text x="1282.6" y="523.1" class="xt">F05</text>
<text x="1355.7" y="523.1" class="xt">F06</text>
<text x="1429.1" y="523.1" class="xt">F11</text>
<clipPath id="c12"><rect x="1491.9" y="32.45" width="220.4" height="455.05"/></clipPath>
<path d="M1491.9 483.05H1712.3M1491.9 398.02H1712.3M1491.9 312.99H1712.3M1491.9 227.96H1712.3M1491.9 142.93H1712.3M1491.9 57.9H1712.3M1519.4 32.45V487.5M1574 32.45V487.5M1629 32.45V487.5M1684.3 32.45V487.5" stroke="#cccccc" stroke-width="1.9" fill="none"/>
<g clip-path="url(#c12)">
<path d="M1519.4 460.39V466.81M1519.4 455.71V444.79M1513.2 466.81H1525.6M1513.2 444.79H1525.6" stroke="#000" stroke-width="1.8" fill="none" stroke-linecap="square"/>
<circle cx="1519.4" cy="423.4" r="6.15" fill="none" stroke="#000" stroke-width="1.85"/>
<circle cx="1519.4" cy="438.28" r="6.15" fill="none" stroke="#000" stroke-width="1.85"/>
<circle cx="1519.4" cy="439.26" r="6.15" fill="none" stroke="#000" stroke-width="1.85"/>
<circle cx="1519.4" cy="440.54" r="6.15" fill="none" stroke="#000" stroke-width="1.85"/>
<circle cx="1519.4" cy="441.81" r="6.15" fill="none" stroke="#000" stroke-width="1.85"/>
<circle cx="1519.4" cy="443.09" r="6.15" fill="none" stroke="#000" stroke-width="1.85"/>
<circle cx="1519.4" cy="443.94" r="6.15" fill="none" stroke="#000" stroke-width="1.85"/>
<circle cx="1519.4" cy="444.79" r="6.15" fill="none" stroke="#000" stroke-width="1.85"/>
<circle cx="1519.4" cy="467.11" r="6.15" fill="none" stroke="#000" stroke-width="1.85"/>
<path d="M1574 459.28V466.47M1574 454.69V444.79M1567.8 466.47H1580.2M1567.8 444.79H1580.2" stroke="#000" stroke-width="1.8" fill="none" stroke-linecap="square"/>
<circle cx="1574" cy="398.19" r="6.15" fill="none" stroke="#000" stroke-width="1.85"/>
<circle cx="1574" cy="412.31" r="6.15" fill="none" stroke="#000" stroke-width="1.85"/>
<circle cx="1574" cy="415.88" r="6.15" fill="none" stroke="#000" stroke-width="1.85"/>
<circle cx="1574" cy="418.43" r="6.15" fill="none" stroke="#000" stroke-width="1.85"/>
<circle cx="1574" cy="421.91" r="6.15" fill="none" stroke="#000" stroke-width="1.85"/>
<circle cx="1574" cy="425.48" r="6.15" fill="none" stroke="#000" stroke-width="1.85"/>
<circle cx="1574" cy="429.06" r="6.15" fill="none" stroke="#000" stroke-width="1.85"/>
<circle cx="1574" cy="432.58" r="6.15" fill="none" stroke="#000" stroke-width="1.85"/>
<circle cx="1574" cy="436.79" r="6.15" fill="none" stroke="#000" stroke-width="1.85"/>
<circle cx="1574" cy="438.41" r="6.15" fill="none" stroke="#000" stroke-width="1.85"/>
<circle cx="1574" cy="439.68" r="6.15" fill="none" stroke="#000" stroke-width="1.85"/>
<circle cx="1574" cy="440.96" r="6.15" fill="none" stroke="#000" stroke-width="1.85"/>
<circle cx="1574" cy="442.24" r="6.15" fill="none" stroke="#000" stroke-width="1.85"/>
<circle cx="1574" cy="443.51" r="6.15" fill="none" stroke="#000" stroke-width="1.85"/>
<circle cx="1574" cy="444.79" r="6.15" fill="none" stroke="#000" stroke-width="1.85"/>
<circle cx="1574" cy="467.11" r="6.15" fill="none" stroke="#000" stroke-width="1.85"/>
<circle cx="1574" cy="467.83" r="6.15" fill="none" stroke="#000" stroke-width="1.85"/>
<path d="M1629 454.82V462.69M1629 447.81V437.9M1622.8 462.69H1635.2M1622.8 437.9H1635.2" stroke="#000" stroke-width="1.8" fill="none" stroke-linecap="square"/>
<circle cx="1629" cy="368.39" r="6.15" fill="none" stroke="#000" stroke-width="1.85"/>
<circle cx="1629" cy="370.9" r="6.15" fill="none" stroke="#000" stroke-width="1.85"/>
<circle cx="1629" cy="385.18" r="6.15" fill="none" stroke="#000" stroke-width="1.85"/>
<circle cx="1629" cy="388.2" r="6.15" fill="none" stroke="#000" stroke-width="1.85"/>
<circle cx="1629" cy="391.6" r="6.15" fill="none" stroke="#000" stroke-width="1.85"/>
<circle cx="1629" cy="394.62" r="6.15" fill="none" stroke="#000" stroke-width="1.85"/>
<circle cx="1629" cy="401" r="6.15" fill="none" stroke="#000" stroke-width="1.85"/>
<circle cx="1629" cy="413.92" r="6.15" fill="none" stroke="#000" stroke-width="1.85"/>
<circle cx="1629" cy="415.92" r="6.15" fill="none" stroke="#000" stroke-width="1.85"/>
<circle cx="1629" cy="417.92" r="6.15" fill="none" stroke="#000" stroke-width="1.85"/>
<circle cx="1629" cy="419.92" r="6.15" fill="none" stroke="#000" stroke-width="1.85"/>
<circle cx="1629" cy="421.91" r="6.15" fill="none" stroke="#000" stroke-width="1.85"/>
<circle cx="1629" cy="423.91" r="6.15" fill="none" stroke="#000" stroke-width="1.85"/>
<circle cx="1629" cy="425.91" r="6.15" fill="none" stroke="#000" stroke-width="1.85"/>
<circle cx="1629" cy="427.91" r="6.15" fill="none" stroke="#000" stroke-width="1.85"/>
<circle cx="1629" cy="429.91" r="6.15" fill="none" stroke="#000" stroke-width="1.85"/>
<circle cx="1629" cy="431.9" r="6.15" fill="none" stroke="#000" stroke-width="1.85"/>
<circle cx="1629" cy="433.9" r="6.15" fill="none" stroke="#000" stroke-width="1.85"/>
<circle cx="1629" cy="435.9" r="6.15" fill="none" stroke="#000" stroke-width="1.85"/>
<circle cx="1629" cy="437.9" r="6.15" fill="none" stroke="#000" stroke-width="1.85"/>
<circle cx="1629" cy="465.11" r="6.15" fill="none" stroke="#000" stroke-width="1.85"/>
<path d="M1684.3 453.8V463.92M1684.3 445.89V434.41M1678.1 463.92H1690.5M1678.1 434.41H1690.5" stroke="#000" stroke-width="1.8" fill="none" stroke-linecap="square"/>
<circle cx="1684.3" cy="380.72" r="6.15" fill="none" stroke="#000" stroke-width="1.85"/>
<circle cx="1684.3" cy="382.2" r="6.15" fill="none" stroke="#000" stroke-width="1.85"/>
<circle cx="1684.3" cy="399" r="6.15" fill="none" stroke="#000" stroke-width="1.85"/>
<circle cx="1684.3" cy="409.8" r="6.15" fill="none" stroke="#000" stroke-width="1.85"/>
<circle cx="1684.3" cy="423.7" r="6.15" fill="none" stroke="#000" stroke-width="1.85"/>
<circle cx="1684.3" cy="425.23" r="6.15" fill="none" stroke="#000" stroke-width="1.85"/>
<circle cx="1684.3" cy="426.76" r="6.15" fill="none" stroke="#000" stroke-width="1.85"/>
<circle cx="1684.3" cy="428.29" r="6.15" fill="none" stroke="#000" stroke-width="1.85"/>
<circle cx="1684.3" cy="429.82" r="6.15" fill="none" stroke="#000" stroke-width="1.85"/>
<circle cx="1684.3" cy="431.35" r="6.15" fill="none" stroke="#000" stroke-width="1.85"/>
<circle cx="1684.3" cy="432.88" r="6.15" fill="none" stroke="#000" stroke-width="1.85"/>
<circle cx="1684.3" cy="434.41" r="6.15" fill="none" stroke="#000" stroke-width="1.85"/>
<circle cx="1684.3" cy="464.68" r="6.15" fill="none" stroke="#000" stroke-width="1.85"/>
<circle cx="1684.3" cy="465.62" r="6.15" fill="none" stroke="#000" stroke-width="1.85"/>
<circle cx="1684.3" cy="466.68" r="6.15" fill="none" stroke="#000" stroke-width="1.85"/>
<circle cx="1684.3" cy="467.74" r="6.15" fill="none" stroke="#000" stroke-width="1.85"/>
<circle cx="1684.3" cy="469.02" r="6.15" fill="none" stroke="#000" stroke-width="1.85"/>
<circle cx="1684.3" cy="470.08" r="6.15" fill="none" stroke="#000" stroke-width="1.85"/>
<circle cx="1684.3" cy="471.02" r="6.15" fill="none" stroke="#000" stroke-width="1.85"/>
<path d="M1491.9 453.42H1712.3" stroke="#ff0000" stroke-width="3.0"/>
<rect x="1507" y="455.71" width="24.79" height="4.68" fill="#d3d3d3" stroke="#000" stroke-width="1.8"/>
<path d="M1507 458.18H1531.8" stroke="#0000ff" stroke-width="1.8" stroke-linecap="square"/>
<rect x="1561.6" y="454.69" width="24.79" height="4.59" fill="#d3d3d3" stroke="#000" stroke-width="1.8"/>
<path d="M1561.6 456.82H1586.4" stroke="#0000ff" stroke-width="1.8" stroke-linecap="square"/>
<rect x="1616.6" y="447.81" width="24.79" height="7.01" fill="#d3d3d3" stroke="#000" stroke-width="1.8"/>
<path d="M1616.6 450.78H1641.4" stroke="#0000ff" stroke-width="1.8" stroke-linecap="square"/>
<rect x="1671.9" y="445.89" width="24.79" height="7.91" fill="#d3d3d3" stroke="#000" stroke-width="1.8"/>
<path d="M1671.9 450.1H1696.7" stroke="#0000ff" stroke-width="1.8" stroke-linecap="square"/>
</g>
<rect x="1491.9" y="32.45" width="220.4" height="455.05" fill="none" stroke="#cccccc" stroke-width="3.75"/>
<text x="1602.1" y="20.55" class="tt">Case C</text>
<text x="1519.4" y="523.1" class="xt">F01</text>
<text x="1574" y="523.1" class="xt">F06</text>
<text x="1629" y="523.1" class="xt">F15</text>
<text x="1684.3" y="523.1" class="xt">F23</text>
<path d="M1502.9 52.55H1525.4" stroke="#ff0000" stroke-width="3.0" stroke-linecap="round"/>
<text x="1542.2" y="60.15" class="lg">p4DCT</text>
<text x="980.4" y="491.55" class="yt">0</text>
<text x="980.4" y="406.52" class="yt">20</text>
<text x="980.4" y="321.49" class="yt">40</text>
<text x="980.4" y="236.46" class="yt">60</text>
<text x="980.4" y="151.43" class="yt">80</text>
<text x="980.4" y="66.4" class="yt">100</text>
<text transform="translate(926 259.98) rotate(-90)" class="yl">CTV motion amplitude P<tspan font-size="17.5" dy="4.4">95</tspan><tspan dy="-4.4" dx="1.8"> [mm]</tspan></text>
<clipPath id="c20"><rect x="81.3" y="694" width="225.2" height="454.9"/></clipPath>
<path d="M81.3 1116.2H306.5M81.3 1051.24H306.5M81.3 986.28H306.5M81.3 921.32H306.5M81.3 856.36H306.5M81.3 791.4H306.5M81.3 726.44H306.5M118.95 694V1148.9M193.95 694V1148.9M269 694V1148.9" stroke="#cccccc" stroke-width="1.9" fill="none"/>
<g clip-path="url(#c20)">
<path d="M118.95 1082V1100.51M118.95 1016.81V917.1M113.32 1100.51H124.58M113.32 917.1H124.58" stroke="#000" stroke-width="1.8" fill="none" stroke-linecap="square"/>
<circle cx="118.95" cy="829.08" r="6.15" fill="none" stroke="#000" stroke-width="1.85"/>
<circle cx="118.95" cy="837.85" r="6.15" fill="none" stroke="#000" stroke-width="1.85"/>
<circle cx="118.95" cy="874.87" r="6.15" fill="none" stroke="#000" stroke-width="1.85"/>
<circle cx="118.95" cy="885.59" r="6.15" fill="none" stroke="#000" stroke-width="1.85"/>
<circle cx="118.95" cy="887.56" r="6.15" fill="none" stroke="#000" stroke-width="1.85"/>
<circle cx="118.95" cy="889.53" r="6.15" fill="none" stroke="#000" stroke-width="1.85"/>
<circle cx="118.95" cy="891.5" r="6.15" fill="none" stroke="#000" stroke-width="1.85"/>
<circle cx="118.95" cy="893.47" r="6.15" fill="none" stroke="#000" stroke-width="1.85"/>
<circle cx="118.95" cy="895.44" r="6.15" fill="none" stroke="#000" stroke-width="1.85"/>
<circle cx="118.95" cy="897.41" r="6.15" fill="none" stroke="#000" stroke-width="1.85"/>
<circle cx="118.95" cy="899.38" r="6.15" fill="none" stroke="#000" stroke-width="1.85"/>
<circle cx="118.95" cy="901.34" r="6.15" fill="none" stroke="#000" stroke-width="1.85"/>
<circle cx="118.95" cy="903.31" r="6.15" fill="none" stroke="#000" stroke-width="1.85"/>
<circle cx="118.95" cy="905.28" r="6.15" fill="none" stroke="#000" stroke-width="1.85"/>
<circle cx="118.95" cy="907.25" r="6.15" fill="none" stroke="#000" stroke-width="1.85"/>
<circle cx="118.95" cy="909.22" r="6.15" fill="none" stroke="#000" stroke-width="1.85"/>
<circle cx="118.95" cy="911.19" r="6.15" fill="none" stroke="#000" stroke-width="1.85"/>
<circle cx="118.95" cy="913.16" r="6.15" fill="none" stroke="#000" stroke-width="1.85"/>
<circle cx="118.95" cy="915.13" r="6.15" fill="none" stroke="#000" stroke-width="1.85"/>
<circle cx="118.95" cy="917.1" r="6.15" fill="none" stroke="#000" stroke-width="1.85"/>
<path d="M193.95 1047.02V1099.96M193.95 942.43V799.52M188.32 1099.96H199.58M188.32 799.52H199.58" stroke="#000" stroke-width="1.8" fill="none" stroke-linecap="square"/>
<circle cx="193.95" cy="738.13" r="6.15" fill="none" stroke="#000" stroke-width="1.85"/>
<path d="M269 1055.79V1100.51M269 963.54V827.45M263.37 1100.51H274.63M263.37 827.45H274.63" stroke="#000" stroke-width="1.8" fill="none" stroke-linecap="square"/>
<path d="M81.3 1019.41H306.5" stroke="#ff0000" stroke-width="3.0"/>
<rect x="107.69" y="1016.81" width="22.52" height="65.19" fill="#d3d3d3" stroke="#000" stroke-width="1.8"/>
<path d="M107.69 1054.29H130.21" stroke="#0000ff" stroke-width="1.8" stroke-linecap="square"/>
<rect x="182.69" y="942.43" width="22.52" height="104.59" fill="#d3d3d3" stroke="#000" stroke-width="1.8"/>
<path d="M182.69 1005.44H205.21" stroke="#0000ff" stroke-width="1.8" stroke-linecap="square"/>
<rect x="257.74" y="963.54" width="22.52" height="92.24" fill="#d3d3d3" stroke="#000" stroke-width="1.8"/>
<path d="M257.74 1015.84H280.26" stroke="#0000ff" stroke-width="1.8" stroke-linecap="square"/>
</g>
<rect x="81.3" y="694" width="225.2" height="454.9" fill="none" stroke="#cccccc" stroke-width="3.75"/>
<text x="193.9" y="682.1" class="tt">Case A</text>
<text x="118.95" y="1184.5" class="xt">F05</text>
<text x="193.95" y="1184.5" class="xt">F06</text>
<text x="269" y="1184.5" class="xt">F10</text>
<clipPath id="c21"><rect x="332.6" y="694" width="225.3" height="454.9"/></clipPath>
<path d="M332.6 1116.2H557.9M332.6 1051.24H557.9M332.6 986.28H557.9M332.6 921.32H557.9M332.6 856.36H557.9M332.6 791.4H557.9M332.6 726.44H557.9M370.5 694V1148.9M445.2 694V1148.9M520.4 694V1148.9" stroke="#cccccc" stroke-width="1.9" fill="none"/>
<g clip-path="url(#c21)">
<path d="M370.5 1106.59V1110.03M370.5 1086.51V1056.76M364.87 1110.03H376.13M364.87 1056.76H376.13" stroke="#000" stroke-width="1.8" fill="none" stroke-linecap="square"/>
<circle cx="370.5" cy="1042.15" r="6.15" fill="none" stroke="#000" stroke-width="1.85"/>
<circle cx="370.5" cy="1043.77" r="6.15" fill="none" stroke="#000" stroke-width="1.85"/>
<circle cx="370.5" cy="1045.39" r="6.15" fill="none" stroke="#000" stroke-width="1.85"/>
<circle cx="370.5" cy="1047.02" r="6.15" fill="none" stroke="#000" stroke-width="1.85"/>
<circle cx="370.5" cy="1048.64" r="6.15" fill="none" stroke="#000" stroke-width="1.85"/>
<circle cx="370.5" cy="1050.27" r="6.15" fill="none" stroke="#000" stroke-width="1.85"/>
<circle cx="370.5" cy="1051.89" r="6.15" fill="none" stroke="#000" stroke-width="1.85"/>
<circle cx="370.5" cy="1053.51" r="6.15" fill="none" stroke="#000" stroke-width="1.85"/>
<circle cx="370.5" cy="1055.14" r="6.15" fill="none" stroke="#000" stroke-width="1.85"/>
<circle cx="370.5" cy="1056.76" r="6.15" fill="none" stroke="#000" stroke-width="1.85"/>
<path d="M445.2 1105.81V1110.03M445.2 1075.28V1032.73M439.57 1110.03H450.83M439.57 1032.73H450.83" stroke="#000" stroke-width="1.8" fill="none" stroke-linecap="square"/>
<path d="M520.4 1108.89V1109.7M520.4 1093.46V1073.98M514.77 1109.7H526.03M514.77 1073.98H526.03" stroke="#000" stroke-width="1.8" fill="none" stroke-linecap="square"/>
<circle cx="520.4" cy="1067.48" r="6.15" fill="none" stroke="#000" stroke-width="1.85"/>
<circle cx="520.4" cy="1069" r="6.15" fill="none" stroke="#000" stroke-width="1.85"/>
<circle cx="520.4" cy="1070.51" r="6.15" fill="none" stroke="#000" stroke-width="1.85"/>
<circle cx="520.4" cy="1072.03" r="6.15" fill="none" stroke="#000" stroke-width="1.85"/>
<path d="M332.6 1089.57H557.9" stroke="#ff0000" stroke-width="3.0"/>
<rect x="359.24" y="1086.51" width="22.53" height="20.07" fill="#d3d3d3" stroke="#000" stroke-width="1.8"/>
<path d="M359.24 1099.41H381.76" stroke="#0000ff" stroke-width="1.8" stroke-linecap="square"/>
<rect x="433.94" y="1075.28" width="22.53" height="30.53" fill="#d3d3d3" stroke="#000" stroke-width="1.8"/>
<path d="M433.94 1093.14H456.46" stroke="#0000ff" stroke-width="1.8" stroke-linecap="square"/>
<rect x="509.13" y="1093.46" width="22.53" height="15.43" fill="#d3d3d3" stroke="#000" stroke-width="1.8"/>
<path d="M509.13 1103.01H531.66" stroke="#0000ff" stroke-width="1.8" stroke-linecap="square"/>
</g>
<rect x="332.6" y="694" width="225.3" height="454.9" fill="none" stroke="#cccccc" stroke-width="3.75"/>
<text x="445.25" y="682.1" class="tt">Case B</text>
<text x="370.5" y="1184.5" class="xt">F05</text>
<text x="445.2" y="1184.5" class="xt">F06</text>
<text x="520.4" y="1184.5" class="xt">F11</text>
<clipPath id="c22"><rect x="583.9" y="694" width="225.1" height="454.9"/></clipPath>
<path d="M583.9 1116.2H809M583.9 1051.24H809M583.9 986.28H809M583.9 921.32H809M583.9 856.36H809M583.9 791.4H809M583.9 726.44H809M611.8 694V1148.9M668.3 694V1148.9M724.7 694V1148.9M781.2 694V1148.9" stroke="#cccccc" stroke-width="1.9" fill="none"/>
<g clip-path="url(#c22)">
<path d="M611.8 1096.91V1110.03M611.8 1041.5V1005.12M605.47 1110.03H618.13M605.47 1005.12H618.13" stroke="#000" stroke-width="1.8" fill="none" stroke-linecap="square"/>
<path d="M668.3 1094.6V1110.03M668.3 1066.83V1031.43M661.97 1110.03H674.63M661.97 1031.43H674.63" stroke="#000" stroke-width="1.8" fill="none" stroke-linecap="square"/>
<path d="M724.7 1098.01V1109.22M724.7 1079.82V1054.81M718.37 1109.22H731.03M718.37 1054.81H731.03" stroke="#000" stroke-width="1.8" fill="none" stroke-linecap="square"/>
<circle cx="724.7" cy="1041.82" r="6.15" fill="none" stroke="#000" stroke-width="1.85"/>
<circle cx="724.7" cy="1042.75" r="6.15" fill="none" stroke="#000" stroke-width="1.85"/>
<circle cx="724.7" cy="1043.68" r="6.15" fill="none" stroke="#000" stroke-width="1.85"/>
<circle cx="724.7" cy="1044.6" r="6.15" fill="none" stroke="#000" stroke-width="1.85"/>
<circle cx="724.7" cy="1045.53" r="6.15" fill="none" stroke="#000" stroke-width="1.85"/>
<circle cx="724.7" cy="1046.46" r="6.15" fill="none" stroke="#000" stroke-width="1.85"/>
<circle cx="724.7" cy="1047.39" r="6.15" fill="none" stroke="#000" stroke-width="1.85"/>
<circle cx="724.7" cy="1048.32" r="6.15" fill="none" stroke="#000" stroke-width="1.85"/>
<circle cx="724.7" cy="1049.24" r="6.15" fill="none" stroke="#000" stroke-width="1.85"/>
<circle cx="724.7" cy="1050.17" r="6.15" fill="none" stroke="#000" stroke-width="1.85"/>
<circle cx="724.7" cy="1051.1" r="6.15" fill="none" stroke="#000" stroke-width="1.85"/>
<circle cx="724.7" cy="1052.03" r="6.15" fill="none" stroke="#000" stroke-width="1.85"/>
<circle cx="724.7" cy="1052.96" r="6.15" fill="none" stroke="#000" stroke-width="1.85"/>
<circle cx="724.7" cy="1053.88" r="6.15" fill="none" stroke="#000" stroke-width="1.85"/>
<circle cx="724.7" cy="1054.81" r="6.15" fill="none" stroke="#000" stroke-width="1.85"/>
<path d="M781.2 1073.65V1108.08M781.2 1046.37V1009.67M774.87 1108.08H787.53M774.87 1009.67H787.53" stroke="#000" stroke-width="1.8" fill="none" stroke-linecap="square"/>
<circle cx="781.2" cy="974.26" r="6.15" fill="none" stroke="#000" stroke-width="1.85"/>
<circle cx="781.2" cy="1000.9" r="6.15" fill="none" stroke="#000" stroke-width="1.85"/>
<circle cx="781.2" cy="1001.77" r="6.15" fill="none" stroke="#000" stroke-width="1.85"/>
<circle cx="781.2" cy="1002.65" r="6.15" fill="none" stroke="#000" stroke-width="1.85"/>
<circle cx="781.2" cy="1003.53" r="6.15" fill="none" stroke="#000" stroke-width="1.85"/>
<circle cx="781.2" cy="1004.4" r="6.15" fill="none" stroke="#000" stroke-width="1.85"/>
<circle cx="781.2" cy="1005.28" r="6.15" fill="none" stroke="#000" stroke-width="1.85"/>
<circle cx="781.2" cy="1006.16" r="6.15" fill="none" stroke="#000" stroke-width="1.85"/>
<circle cx="781.2" cy="1007.03" r="6.15" fill="none" stroke="#000" stroke-width="1.85"/>
<circle cx="781.2" cy="1007.91" r="6.15" fill="none" stroke="#000" stroke-width="1.85"/>
<circle cx="781.2" cy="1008.79" r="6.15" fill="none" stroke="#000" stroke-width="1.85"/>
<circle cx="781.2" cy="1009.67" r="6.15" fill="none" stroke="#000" stroke-width="1.85"/>
<path d="M583.9 1096.91H809" stroke="#ff0000" stroke-width="3.0"/>
<rect x="599.14" y="1041.5" width="25.32" height="55.41" fill="#d3d3d3" stroke="#000" stroke-width="1.8"/>
<path d="M599.14 1067.16H624.46" stroke="#0000ff" stroke-width="1.8" stroke-linecap="square"/>
<rect x="655.64" y="1066.83" width="25.32" height="27.77" fill="#d3d3d3" stroke="#000" stroke-width="1.8"/>
<path d="M655.64 1078.52H680.96" stroke="#0000ff" stroke-width="1.8" stroke-linecap="square"/>
<rect x="712.04" y="1079.82" width="25.32" height="18.19" fill="#d3d3d3" stroke="#000" stroke-width="1.8"/>
<path d="M712.04 1089.89H737.36" stroke="#0000ff" stroke-width="1.8" stroke-linecap="square"/>
<rect x="768.54" y="1046.37" width="25.32" height="27.28" fill="#d3d3d3" stroke="#000" stroke-width="1.8"/>
<path d="M768.54 1060.66H793.86" stroke="#0000ff" stroke-width="1.8" stroke-linecap="square"/>
</g>
<rect x="583.9" y="694" width="225.1" height="454.9" fill="none" stroke="#cccccc" stroke-width="3.75"/>
<text x="696.45" y="682.1" class="tt">Case C</text>
<text x="611.8" y="1184.5" class="xt">F01</text>
<text x="668.3" y="1184.5" class="xt">F06</text>
<text x="724.7" y="1184.5" class="xt">F15</text>
<text x="781.2" y="1184.5" class="xt">F23</text>
<path d="M594.9 714.1H617.4" stroke="#ff0000" stroke-width="3.0" stroke-linecap="round"/>
<text x="634.2" y="721.7" class="lg">p4DCT</text>
<text x="61.7" y="1124.7" class="yt">0</text>
<text x="61.7" y="1059.74" class="yt">2</text>
<text x="61.7" y="994.78" class="yt">4</text>
<text x="61.7" y="929.82" class="yt">6</text>
<text x="61.7" y="864.86" class="yt">8</text>
<text x="61.7" y="799.9" class="yt">10</text>
<text x="61.7" y="734.94" class="yt">12</text>
<text transform="translate(22.2 921.45) rotate(-90)" class="yl">Residual CTV motion P<tspan font-size="17.5" dy="4.4">50</tspan><tspan dy="-4.4" dx="1.8"> [mm]</tspan></text>
<clipPath id="c30"><rect x="984" y="694" width="225.1" height="455"/></clipPath>
<path d="M984 1132H1209.1M984 1047.78H1209.1M984 963.56H1209.1M984 879.34H1209.1M984 795.12H1209.1M984 710.9H1209.1M1021.4 694V1149M1096.8 694V1149M1172 694V1149" stroke="#cccccc" stroke-width="1.9" fill="none"/>
<g clip-path="url(#c30)">
<path d="M1021.4 1088.21V1110.78M1021.4 1004.66V877.32M1015.77 1110.78H1027.03M1015.77 877.32H1027.03" stroke="#000" stroke-width="1.8" fill="none" stroke-linecap="square"/>
<circle cx="1021.4" cy="804.22" r="6.15" fill="none" stroke="#000" stroke-width="1.85"/>
<circle cx="1021.4" cy="811.12" r="6.15" fill="none" stroke="#000" stroke-width="1.85"/>
<circle cx="1021.4" cy="853.91" r="6.15" fill="none" stroke="#000" stroke-width="1.85"/>
<circle cx="1021.4" cy="857.44" r="6.15" fill="none" stroke="#000" stroke-width="1.85"/>
<circle cx="1021.4" cy="860.81" r="6.15" fill="none" stroke="#000" stroke-width="1.85"/>
<circle cx="1021.4" cy="862.08" r="6.15" fill="none" stroke="#000" stroke-width="1.85"/>
<circle cx="1021.4" cy="863.35" r="6.15" fill="none" stroke="#000" stroke-width="1.85"/>
<circle cx="1021.4" cy="864.62" r="6.15" fill="none" stroke="#000" stroke-width="1.85"/>
<circle cx="1021.4" cy="865.89" r="6.15" fill="none" stroke="#000" stroke-width="1.85"/>
<circle cx="1021.4" cy="867.16" r="6.15" fill="none" stroke="#000" stroke-width="1.85"/>
<circle cx="1021.4" cy="868.43" r="6.15" fill="none" stroke="#000" stroke-width="1.85"/>
<circle cx="1021.4" cy="869.7" r="6.15" fill="none" stroke="#000" stroke-width="1.85"/>
<circle cx="1021.4" cy="870.97" r="6.15" fill="none" stroke="#000" stroke-width="1.85"/>
<circle cx="1021.4" cy="872.24" r="6.15" fill="none" stroke="#000" stroke-width="1.85"/>
<circle cx="1021.4" cy="873.51" r="6.15" fill="none" stroke="#000" stroke-width="1.85"/>
<circle cx="1021.4" cy="874.78" r="6.15" fill="none" stroke="#000" stroke-width="1.85"/>
<circle cx="1021.4" cy="876.05" r="6.15" fill="none" stroke="#000" stroke-width="1.85"/>
<circle cx="1021.4" cy="877.32" r="6.15" fill="none" stroke="#000" stroke-width="1.85"/>
<path d="M1096.8 1041.55V1109.93M1096.8 901.57V705.85M1091.17 1109.93H1102.43M1091.17 705.85H1102.43" stroke="#000" stroke-width="1.8" fill="none" stroke-linecap="square"/>
<path d="M1172 1057.38V1110.78M1172 940.32V784.34M1166.37 1110.78H1177.63M1166.37 784.34H1177.63" stroke="#000" stroke-width="1.8" fill="none" stroke-linecap="square"/>
<path d="M984 1000.95H1209.1" stroke="#ff0000" stroke-width="3.0"/>
<rect x="1010.14" y="1004.66" width="22.51" height="83.55" fill="#d3d3d3" stroke="#000" stroke-width="1.8"/>
<path d="M1010.14 1052.83H1032.65" stroke="#0000ff" stroke-width="1.8" stroke-linecap="square"/>
<rect x="1085.55" y="901.57" width="22.51" height="139.97" fill="#d3d3d3" stroke="#000" stroke-width="1.8"/>
<path d="M1085.55 985.79H1108.05" stroke="#0000ff" stroke-width="1.8" stroke-linecap="square"/>
<rect x="1160.74" y="940.32" width="22.51" height="117.07" fill="#d3d3d3" stroke="#000" stroke-width="1.8"/>
<path d="M1160.74 1007.02H1183.26" stroke="#0000ff" stroke-width="1.8" stroke-linecap="square"/>
</g>
<rect x="984" y="694" width="225.1" height="455" fill="none" stroke="#cccccc" stroke-width="3.75"/>
<text x="1096.55" y="682.1" class="tt">Case A</text>
<text x="1021.4" y="1184.6" class="xt">F05</text>
<text x="1096.8" y="1184.6" class="xt">F06</text>
<text x="1172" y="1184.6" class="xt">F10</text>
<clipPath id="c31"><rect x="1235.1" y="694" width="225.3" height="455"/></clipPath>
<path d="M1235.1 1132H1460.4M1235.1 1047.78H1460.4M1235.1 963.56H1460.4M1235.1 879.34H1460.4M1235.1 795.12H1460.4M1235.1 710.9H1460.4M1272.8 694V1149M1347.8 694V1149M1423.2 694V1149" stroke="#cccccc" stroke-width="1.9" fill="none"/>
<g clip-path="url(#c31)">
<path d="M1272.8 1117.18V1120.71M1272.8 1091.91V1054.18M1267.17 1120.71H1278.43M1267.17 1054.18H1278.43" stroke="#000" stroke-width="1.8" fill="none" stroke-linecap="square"/>
<circle cx="1272.8" cy="1031.95" r="6.15" fill="none" stroke="#000" stroke-width="1.85"/>
<circle cx="1272.8" cy="1034.3" r="6.15" fill="none" stroke="#000" stroke-width="1.85"/>
<circle cx="1272.8" cy="1037.67" r="6.15" fill="none" stroke="#000" stroke-width="1.85"/>
<circle cx="1272.8" cy="1039.51" r="6.15" fill="none" stroke="#000" stroke-width="1.85"/>
<circle cx="1272.8" cy="1041.34" r="6.15" fill="none" stroke="#000" stroke-width="1.85"/>
<circle cx="1272.8" cy="1043.18" r="6.15" fill="none" stroke="#000" stroke-width="1.85"/>
<circle cx="1272.8" cy="1045.01" r="6.15" fill="none" stroke="#000" stroke-width="1.85"/>
<circle cx="1272.8" cy="1046.84" r="6.15" fill="none" stroke="#000" stroke-width="1.85"/>
<circle cx="1272.8" cy="1048.68" r="6.15" fill="none" stroke="#000" stroke-width="1.85"/>
<circle cx="1272.8" cy="1050.51" r="6.15" fill="none" stroke="#000" stroke-width="1.85"/>
<circle cx="1272.8" cy="1052.35" r="6.15" fill="none" stroke="#000" stroke-width="1.85"/>
<circle cx="1272.8" cy="1054.18" r="6.15" fill="none" stroke="#000" stroke-width="1.85"/>
<path d="M1347.8 1116.84V1120.71M1347.8 1078.1V1023.36M1342.17 1120.71H1353.43M1342.17 1023.36H1353.43" stroke="#000" stroke-width="1.8" fill="none" stroke-linecap="square"/>
<circle cx="1347.8" cy="1019.48" r="6.15" fill="none" stroke="#000" stroke-width="1.85"/>
<circle cx="1347.8" cy="1020.83" r="6.15" fill="none" stroke="#000" stroke-width="1.85"/>
<path d="M1423.2 1119.54V1120.71M1423.2 1103.53V1078.77M1417.57 1120.71H1428.83M1417.57 1078.77H1428.83" stroke="#000" stroke-width="1.8" fill="none" stroke-linecap="square"/>
<circle cx="1423.2" cy="1067.32" r="6.15" fill="none" stroke="#000" stroke-width="1.85"/>
<circle cx="1423.2" cy="1068.14" r="6.15" fill="none" stroke="#000" stroke-width="1.85"/>
<circle cx="1423.2" cy="1068.96" r="6.15" fill="none" stroke="#000" stroke-width="1.85"/>
<circle cx="1423.2" cy="1069.77" r="6.15" fill="none" stroke="#000" stroke-width="1.85"/>
<circle cx="1423.2" cy="1070.59" r="6.15" fill="none" stroke="#000" stroke-width="1.85"/>
<circle cx="1423.2" cy="1071.41" r="6.15" fill="none" stroke="#000" stroke-width="1.85"/>
<circle cx="1423.2" cy="1072.23" r="6.15" fill="none" stroke="#000" stroke-width="1.85"/>
<circle cx="1423.2" cy="1073.05" r="6.15" fill="none" stroke="#000" stroke-width="1.85"/>
<circle cx="1423.2" cy="1073.86" r="6.15" fill="none" stroke="#000" stroke-width="1.85"/>
<circle cx="1423.2" cy="1074.68" r="6.15" fill="none" stroke="#000" stroke-width="1.85"/>
<circle cx="1423.2" cy="1075.5" r="6.15" fill="none" stroke="#000" stroke-width="1.85"/>
<circle cx="1423.2" cy="1076.32" r="6.15" fill="none" stroke="#000" stroke-width="1.85"/>
<circle cx="1423.2" cy="1077.14" r="6.15" fill="none" stroke="#000" stroke-width="1.85"/>
<circle cx="1423.2" cy="1077.95" r="6.15" fill="none" stroke="#000" stroke-width="1.85"/>
<circle cx="1423.2" cy="1078.77" r="6.15" fill="none" stroke="#000" stroke-width="1.85"/>
<path d="M1235.1 1097.98H1460.4" stroke="#ff0000" stroke-width="3.0"/>
<rect x="1261.53" y="1091.91" width="22.53" height="25.27" fill="#d3d3d3" stroke="#000" stroke-width="1.8"/>
<path d="M1261.53 1107.91H1284.07" stroke="#0000ff" stroke-width="1.8" stroke-linecap="square"/>
<rect x="1336.53" y="1078.1" width="22.53" height="38.74" fill="#d3d3d3" stroke="#000" stroke-width="1.8"/>
<path d="M1336.53 1103.03H1359.07" stroke="#0000ff" stroke-width="1.8" stroke-linecap="square"/>
<rect x="1411.93" y="1103.53" width="22.53" height="16" fill="#d3d3d3" stroke="#000" stroke-width="1.8"/>
<path d="M1411.93 1114.65H1434.47" stroke="#0000ff" stroke-width="1.8" stroke-linecap="square"/>
</g>
<rect x="1235.1" y="694" width="225.3" height="455" fill="none" stroke="#cccccc" stroke-width="3.75"/>
<text x="1347.75" y="682.1" class="tt">Case B</text>
<text x="1272.8" y="1184.6" class="xt">F05</text>
<text x="1347.8" y="1184.6" class="xt">F06</text>
<text x="1423.2" y="1184.6" class="xt">F11</text>
<clipPath id="c32"><rect x="1486.4" y="694" width="225.6" height="455"/></clipPath>
<path d="M1486.4 1132H1712M1486.4 1047.78H1712M1486.4 963.56H1712M1486.4 879.34H1712M1486.4 795.12H1712M1486.4 710.9H1712M1514.6 694V1149M1571 694V1149M1627.4 694V1149M1683.6 694V1149" stroke="#cccccc" stroke-width="1.9" fill="none"/>
<g clip-path="url(#c32)">
<path d="M1514.6 1103.87V1115.32M1514.6 1041.72V999.61M1508.25 1115.32H1520.94M1508.25 999.61H1520.94" stroke="#000" stroke-width="1.8" fill="none" stroke-linecap="square"/>
<path d="M1571 1101.51V1115.32M1571 1069.17V1032.45M1564.65 1115.32H1577.35M1564.65 1032.45H1577.35" stroke="#000" stroke-width="1.8" fill="none" stroke-linecap="square"/>
<path d="M1627.4 1103.87V1115.32M1627.4 1082.48V1049.46M1621.06 1115.32H1633.75M1621.06 1049.46H1633.75" stroke="#000" stroke-width="1.8" fill="none" stroke-linecap="square"/>
<circle cx="1627.4" cy="1041.38" r="6.15" fill="none" stroke="#000" stroke-width="1.85"/>
<circle cx="1627.4" cy="1043" r="6.15" fill="none" stroke="#000" stroke-width="1.85"/>
<circle cx="1627.4" cy="1044.61" r="6.15" fill="none" stroke="#000" stroke-width="1.85"/>
<circle cx="1627.4" cy="1046.23" r="6.15" fill="none" stroke="#000" stroke-width="1.85"/>
<circle cx="1627.4" cy="1047.85" r="6.15" fill="none" stroke="#000" stroke-width="1.85"/>
<circle cx="1627.4" cy="1049.46" r="6.15" fill="none" stroke="#000" stroke-width="1.85"/>
<path d="M1683.6 1077.76V1114.82M1683.6 1048.96V1005.16M1677.25 1114.82H1689.94M1677.25 1005.16H1689.94" stroke="#000" stroke-width="1.8" fill="none" stroke-linecap="square"/>
<circle cx="1683.6" cy="965.24" r="6.15" fill="none" stroke="#000" stroke-width="1.85"/>
<circle cx="1683.6" cy="995.73" r="6.15" fill="none" stroke="#000" stroke-width="1.85"/>
<circle cx="1683.6" cy="996.52" r="6.15" fill="none" stroke="#000" stroke-width="1.85"/>
<circle cx="1683.6" cy="997.3" r="6.15" fill="none" stroke="#000" stroke-width="1.85"/>
<circle cx="1683.6" cy="998.09" r="6.15" fill="none" stroke="#000" stroke-width="1.85"/>
<circle cx="1683.6" cy="998.88" r="6.15" fill="none" stroke="#000" stroke-width="1.85"/>
<circle cx="1683.6" cy="999.66" r="6.15" fill="none" stroke="#000" stroke-width="1.85"/>
<circle cx="1683.6" cy="1000.45" r="6.15" fill="none" stroke="#000" stroke-width="1.85"/>
<circle cx="1683.6" cy="1001.23" r="6.15" fill="none" stroke="#000" stroke-width="1.85"/>
<circle cx="1683.6" cy="1002.02" r="6.15" fill="none" stroke="#000" stroke-width="1.85"/>
<circle cx="1683.6" cy="1002.81" r="6.15" fill="none" stroke="#000" stroke-width="1.85"/>
<circle cx="1683.6" cy="1003.59" r="6.15" fill="none" stroke="#000" stroke-width="1.85"/>
<circle cx="1683.6" cy="1004.38" r="6.15" fill="none" stroke="#000" stroke-width="1.85"/>
<circle cx="1683.6" cy="1005.16" r="6.15" fill="none" stroke="#000" stroke-width="1.85"/>
<path d="M1486.4 1082.14H1712" stroke="#ff0000" stroke-width="3.0"/>
<rect x="1501.91" y="1041.72" width="25.38" height="62.15" fill="#d3d3d3" stroke="#000" stroke-width="1.8"/>
<path d="M1501.91 1070.69H1527.29" stroke="#0000ff" stroke-width="1.8" stroke-linecap="square"/>
<rect x="1558.31" y="1069.17" width="25.38" height="32.34" fill="#d3d3d3" stroke="#000" stroke-width="1.8"/>
<path d="M1558.31 1082.82H1583.69" stroke="#0000ff" stroke-width="1.8" stroke-linecap="square"/>
<rect x="1614.71" y="1082.48" width="25.38" height="21.39" fill="#d3d3d3" stroke="#000" stroke-width="1.8"/>
<path d="M1614.71 1093.93H1640.09" stroke="#0000ff" stroke-width="1.8" stroke-linecap="square"/>
<rect x="1670.91" y="1048.96" width="25.38" height="28.8" fill="#d3d3d3" stroke="#000" stroke-width="1.8"/>
<path d="M1670.91 1062.77H1696.29" stroke="#0000ff" stroke-width="1.8" stroke-linecap="square"/>
</g>
<rect x="1486.4" y="694" width="225.6" height="455" fill="none" stroke="#cccccc" stroke-width="3.75"/>
<text x="1599.2" y="682.1" class="tt">Case C</text>
<text x="1514.6" y="1184.6" class="xt">F01</text>
<text x="1571" y="1184.6" class="xt">F06</text>
<text x="1627.4" y="1184.6" class="xt">F15</text>
<text x="1683.6" y="1184.6" class="xt">F23</text>
<path d="M1497.4 714.1H1519.9" stroke="#ff0000" stroke-width="3.0" stroke-linecap="round"/>
<text x="1536.7" y="721.7" class="lg">p4DCT</text>
<text x="964.4" y="1140.5" class="yt">0</text>
<text x="964.4" y="1056.28" class="yt">5</text>
<text x="964.4" y="972.06" class="yt">10</text>
<text x="964.4" y="887.84" class="yt">15</text>
<text x="964.4" y="803.62" class="yt">20</text>
<text x="964.4" y="719.4" class="yt">25</text>
<text transform="translate(924 921.5) rotate(-90)" class="yl">Residual CTV motion P<tspan font-size="17.5" dy="4.4">95</tspan><tspan dy="-4.4" dx="1.8"> [mm]</tspan></text>
<text x="90.01" y="593.9" class="cap" font-size="45" textLength="52.67" lengthAdjust="spacingAndGlyphs">(a)</text>
<text x="158.16" y="593.9" class="cap" font-size="45" textLength="94.78" lengthAdjust="spacingAndGlyphs">CTV</text>
<text x="269.13" y="593.9" class="cap" font-size="45" textLength="131.38" lengthAdjust="spacingAndGlyphs">motion</text>
<text x="414.92" y="593.9" class="cap" font-size="45" textLength="191.54" lengthAdjust="spacingAndGlyphs">amplitude</text>
<text x="619.02" y="593.9" class="cap" font-size="45" textLength="30.47" lengthAdjust="spacingAndGlyphs">P</text>
<text x="648.32" y="603.3" class="cap" font-size="32" textLength="62.55" lengthAdjust="spacingAndGlyphs">50%</text>
<text x="991.31" y="593.9" class="cap" font-size="45" textLength="55.37" lengthAdjust="spacingAndGlyphs">(b)</text>
<text x="1062.26" y="593.9" class="cap" font-size="45" textLength="94.78" lengthAdjust="spacingAndGlyphs">CTV</text>
<text x="1172.22" y="593.9" class="cap" font-size="45" textLength="131.68" lengthAdjust="spacingAndGlyphs">motion</text>
<text x="1319.02" y="593.9" class="cap" font-size="45" textLength="191.44" lengthAdjust="spacingAndGlyphs">amplitude</text>
<text x="1523.12" y="593.9" class="cap" font-size="45" textLength="30.47" lengthAdjust="spacingAndGlyphs">P</text>
<text x="1553.32" y="603.3" class="cap" font-size="32" textLength="61.63" lengthAdjust="spacingAndGlyphs">95%</text>
<text x="105.5" y="1255.4" class="cap" font-size="45" textLength="50.5" lengthAdjust="spacingAndGlyphs">(c)</text>
<text x="171.36" y="1255.4" class="cap" font-size="45" textLength="162.47" lengthAdjust="spacingAndGlyphs">Residual</text>
<text x="347.74" y="1255.4" class="cap" font-size="45" textLength="95.7" lengthAdjust="spacingAndGlyphs">CTV</text>
<text x="457.71" y="1255.4" class="cap" font-size="45" textLength="133.1" lengthAdjust="spacingAndGlyphs">motion</text>
<text x="604.3" y="1255.4" class="cap" font-size="45" textLength="30.93" lengthAdjust="spacingAndGlyphs">P</text>
<text x="633.71" y="1264.8" class="cap" font-size="32" textLength="62.87" lengthAdjust="spacingAndGlyphs">50%</text>
<text x="1060.03" y="1255.4" class="cap" font-size="45" textLength="54.83" lengthAdjust="spacingAndGlyphs">(d)</text>
<text x="1130.46" y="1255.4" class="cap" font-size="45" textLength="162.77" lengthAdjust="spacingAndGlyphs">Residual</text>
<text x="1307.92" y="1255.4" class="cap" font-size="45" textLength="132.19" lengthAdjust="spacingAndGlyphs">motion</text>
<text x="1455.17" y="1255.4" class="cap" font-size="45" textLength="29.56" lengthAdjust="spacingAndGlyphs">P</text>
<text x="1484.72" y="1264.8" class="cap" font-size="32" textLength="61.22" lengthAdjust="spacingAndGlyphs">95%</text>
</svg>
</body></html>
